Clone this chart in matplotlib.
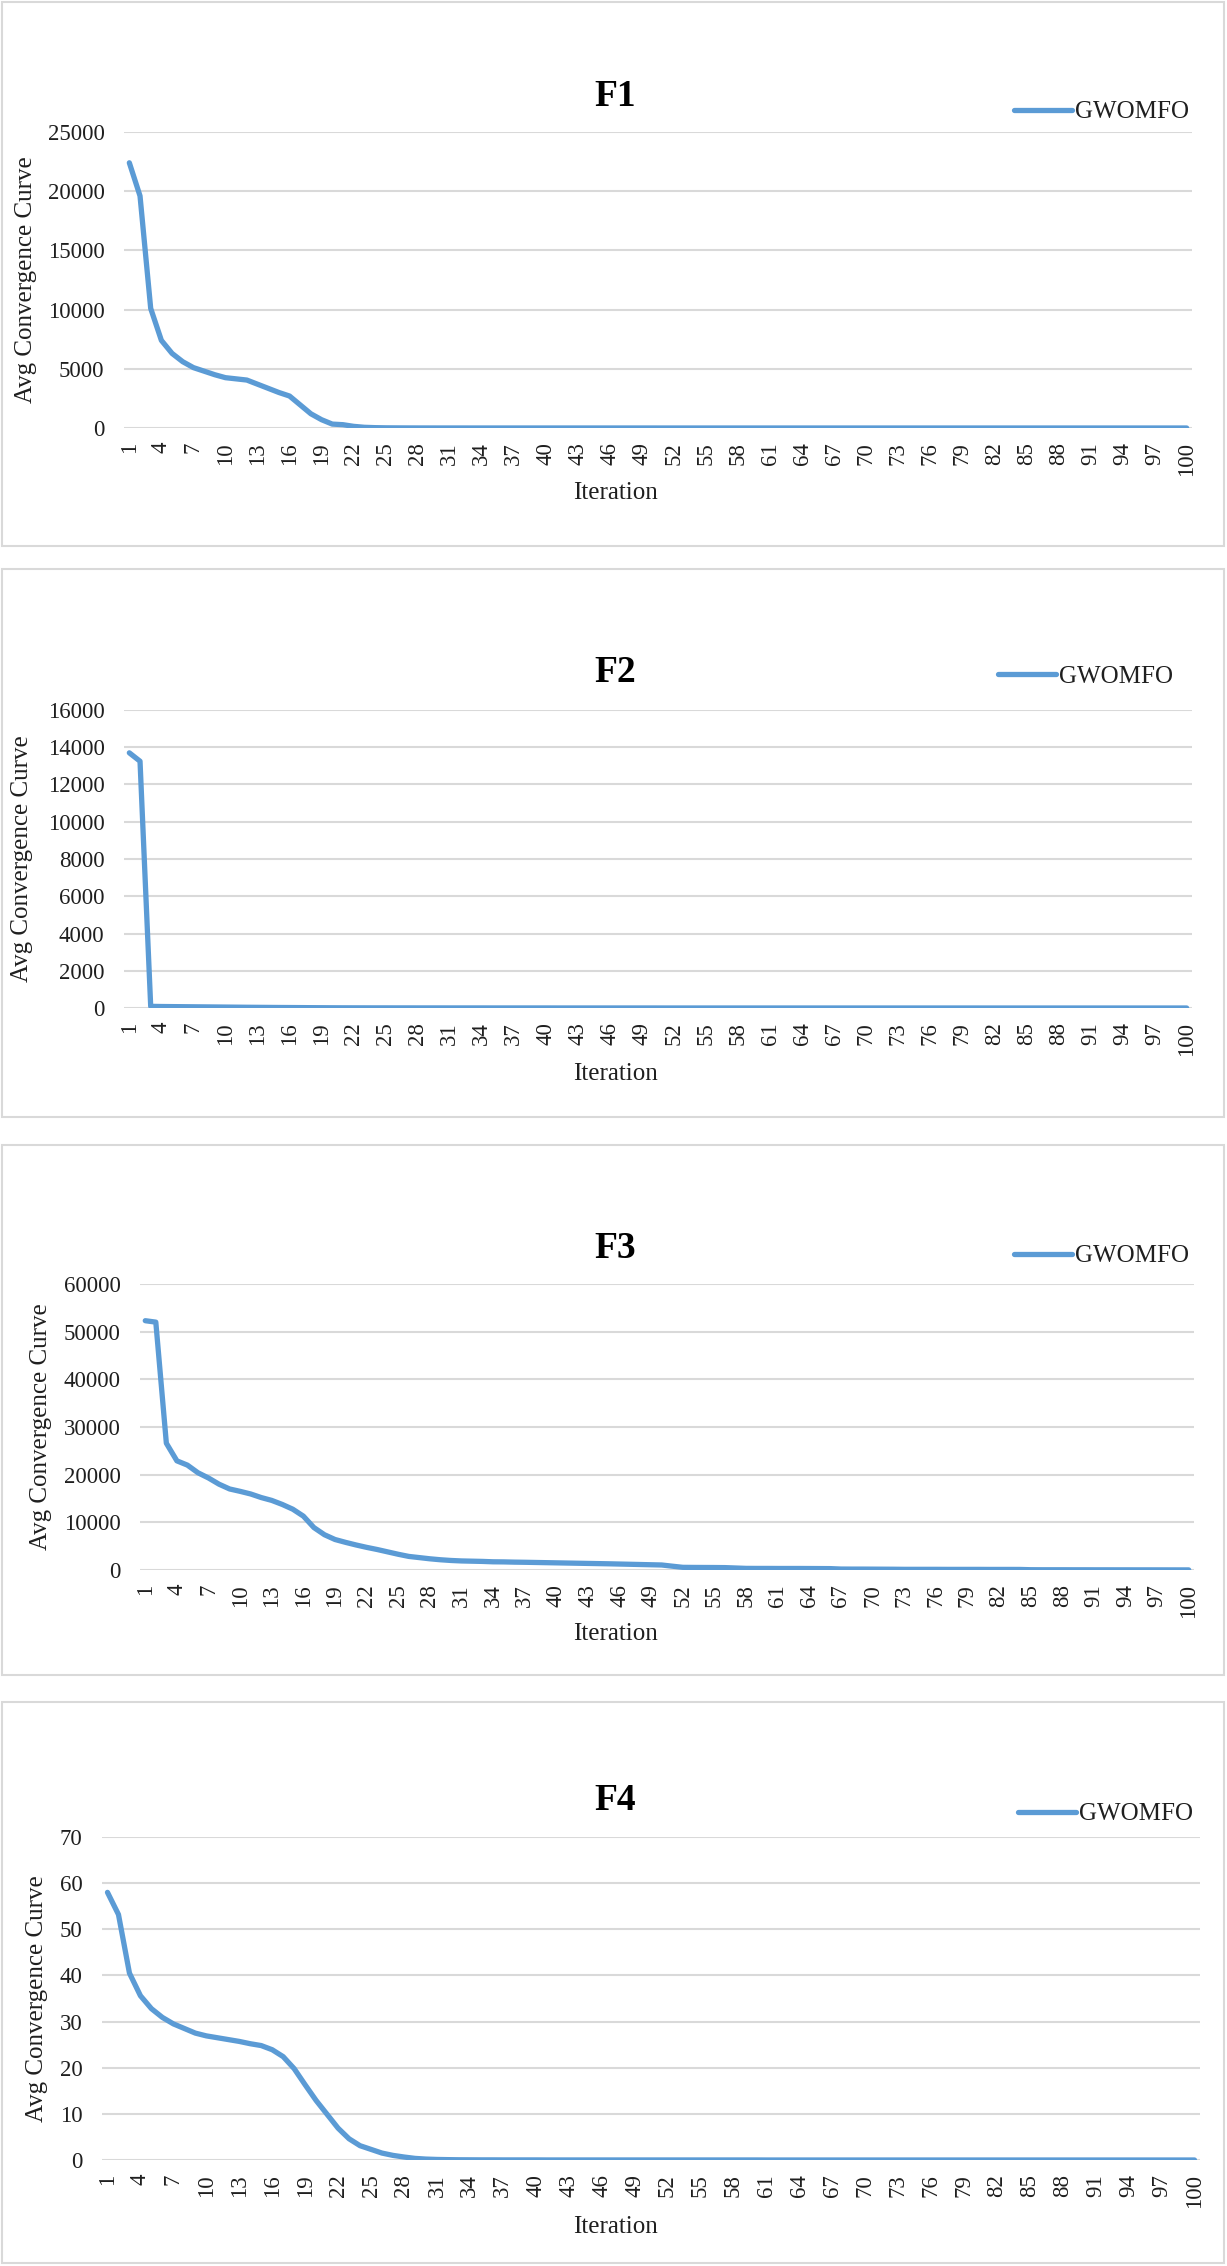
import matplotlib
matplotlib.use("Agg")
import matplotlib.pyplot as plt
from matplotlib.patches import Rectangle

plt.rcParams['font.family'] = ['Liberation Serif', 'DejaVu Serif']

iterations = list(range(1, 101))

f1_values = [22400, 19600, 10100, 7400, 6300, 5600, 5100, 4800, 4500, 4250,
             4150, 4050, 3700, 3350, 3000, 2700, 1950, 1200, 700, 330,
             280, 140, 60, 30, 15, 10, 6, 4, 3, 2,
             2, 2, 1, 1, 1, 1, 1, 1, 1, 1,
             1, 1, 1, 1, 1, 1, 1, 1, 1, 1,
             0, 0, 0, 0, 0, 0, 0, 0, 0, 0,
             0, 0, 0, 0, 0, 0, 0, 0, 0, 0,
             0, 0, 0, 0, 0, 0, 0, 0, 0, 0,
             0, 0, 0, 0, 0, 0, 0, 0, 0, 0,
             0, 0, 0, 0, 0, 0, 0, 0, 0, 0]

f2_values = [13700, 13250, 90, 80, 75, 70, 65, 60, 55, 50,
             45, 40, 36, 32, 28, 25, 22, 18, 15, 12,
             10, 9, 8, 7, 7, 6, 6, 5, 5, 5,
             4, 4, 4, 4, 3, 3, 3, 3, 3, 3,
             2, 2, 2, 2, 2, 2, 2, 2, 2, 2,
             1, 1, 1, 1, 1, 1, 1, 1, 1, 1,
             1, 1, 1, 1, 1, 1, 1, 1, 1, 1,
             1, 1, 1, 1, 1, 1, 1, 1, 1, 1,
             0, 0, 0, 0, 0, 0, 0, 0, 0, 0,
             0, 0, 0, 0, 0, 0, 0, 0, 0, 0]

f3_values = [52300, 52000, 26600, 22900, 22000, 20400, 19300, 18000, 17000, 16500,
             15950, 15200, 14600, 13750, 12750, 11300, 8900, 7400, 6400, 5800,
             5250, 4750, 4300, 3800, 3300, 2850, 2600, 2350, 2150, 2000,
             1900, 1850, 1800, 1720, 1700, 1650, 1620, 1580, 1540, 1500,
             1460, 1420, 1380, 1340, 1300, 1250, 1200, 1150, 1100, 1050,
             800, 560, 540, 530, 520, 500, 420, 340, 330, 330,
             320, 320, 320, 310, 300, 290, 200, 190, 190, 180,
             170, 160, 140, 140, 140, 140, 130, 130, 130, 130,
             120, 120, 120, 115, 60, 50, 50, 50, 45, 45,
             40, 40, 35, 35, 30, 30, 28, 25, 22, 20]

f4_values = [58.0, 53.2, 40.5, 35.6, 32.8, 30.9, 29.5, 28.5, 27.5, 26.9,
             26.5, 26.1, 25.7, 25.2, 24.8, 23.9, 22.4, 19.8, 16.3, 12.9,
             9.9, 6.9, 4.6, 3.1, 2.3, 1.5, 1.0, 0.65, 0.35, 0.2,
             0.12, 0.08, 0.05, 0.04, 0.03, 0.03, 0.02, 0.02, 0.02, 0.02,
             0.01, 0.01, 0.01, 0.01, 0.01, 0.01, 0.01, 0.01, 0.01, 0.01,
             0.01, 0.01, 0.01, 0.01, 0.01, 0.01, 0.01, 0.01, 0.01, 0.01,
             0.0, 0.0, 0.0, 0.0, 0.0, 0.0, 0.0, 0.0, 0.0, 0.0,
             0.0, 0.0, 0.0, 0.0, 0.0, 0.0, 0.0, 0.0, 0.0, 0.0,
             0.0, 0.0, 0.0, 0.0, 0.0, 0.0, 0.0, 0.0, 0.0, 0.0,
             0.0, 0.0, 0.0, 0.0, 0.0, 0.0, 0.0, 0.0, 0.0, 0.0]

titles = ['F1', 'F2', 'F3', 'F4']
y_max = [25000, 16000, 60000, 70]
y_step = [5000, 2000, 10000, 10]
series_name = 'GWOMFO'
x_label = 'Iteration'
y_label = 'Avg Convergence Curve'

LINE_COLOR = '#5B9BD5'
GRID_COLOR = '#D9D9D9'
TEXT_COLOR = '#1F1F1F'

W, H = 1227, 2266

# pixel layout of each panel: box, axes, title y, legend (x, y), xlabel y, ylabel x
layout = [
    dict(box=(2, 2, 1224, 546), ax=(124, 132, 1192, 428), title_y=96,
         leg=(1014, 112), xlab_y=493, ylab_x=26),
    dict(box=(2, 569, 1224, 1117), ax=(124, 710, 1192, 1008), title_y=672,
         leg=(998, 677), xlab_y=1074, ylab_x=22),
    dict(box=(2, 1145, 1224, 1675), ax=(140, 1284, 1194, 1570), title_y=1249,
         leg=(1014, 1256), xlab_y=1634, ylab_x=41),
    dict(box=(2, 1702, 1224, 2263), ax=(102, 1837, 1200, 2160), title_y=1800,
         leg=(1018, 1814), xlab_y=2227, ylab_x=37),
]


def fx(px):
    return px / W


def fy(py):
    return 1 - py / H


def draw_panel(fig, values, title, ymax, ystep, lay):
    bx0, by0, bx1, by1 = lay['box']
    fig.add_artist(Rectangle((fx(bx0), fy(by1)), fx(bx1) - fx(bx0), fy(by0) - fy(by1),
                             transform=fig.transFigure, facecolor='none',
                             edgecolor=GRID_COLOR, lw=1.5))
    x0, y0, x1, y1 = lay['ax']
    ax = fig.add_axes([fx(x0), fy(y1), fx(x1) - fx(x0), fy(y0) - fy(y1)])
    line, = ax.plot(iterations, values, color=LINE_COLOR, lw=3.8,
                    solid_capstyle='round', solid_joinstyle='round')
    ax.set_xlim(0.5, 100.5)
    ax.set_ylim(0, ymax)
    ax.set_yticks(list(range(0, ymax + 1, ystep)))
    ax.set_xticks(iterations[::3])
    ax.tick_params(axis='x', labelrotation=90, length=0, pad=10,
                   labelsize=16.5, labelcolor=TEXT_COLOR)
    ax.tick_params(axis='y', length=0, pad=14, labelsize=16.5, labelcolor=TEXT_COLOR)
    for s in ax.spines.values():
        s.set_visible(False)
    ax.yaxis.grid(True, color=GRID_COLOR, lw=1.5)
    ax.set_axisbelow(True)

    cx = fx((bx0 + bx1) / 2 + 2)
    fig.text(cx, fy(lay['title_y']), title, ha='center', va='center',
             fontsize=27, fontweight='bold', color='black')
    fig.text(cx, fy(lay['xlab_y']), x_label, ha='center', va='center',
             fontsize=18, color=TEXT_COLOR)
    fig.text(fx(lay['ylab_x']), fy((y0 + y1) / 2), y_label, ha='center', va='center',
             rotation=90, fontsize=18, color=TEXT_COLOR)
    lx, ly = lay['leg']
    fig.legend([line], [series_name], loc='center left',
               bbox_to_anchor=(fx(lx), fy(ly)), bbox_transform=fig.transFigure,
               frameon=False, fontsize=18, handlelength=2.3, handletextpad=0.15,
               borderpad=0, borderaxespad=0, labelcolor=TEXT_COLOR)
    return ax


fig = plt.figure(figsize=(W / 100, H / 100), dpi=100)
all_values = [f1_values, f2_values, f3_values, f4_values]
for vals, t, ym, ys, lay in zip(all_values, titles, y_max, y_step, layout):
    draw_panel(fig, vals, t, ym, ys, lay)

fig.savefig('out.png', dpi=100, facecolor='white')
